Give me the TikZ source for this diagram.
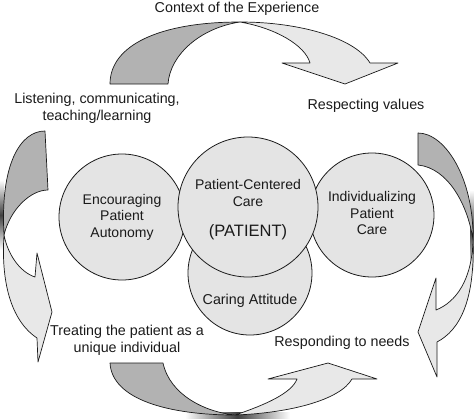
\documentclass[tikz,border=0pt]{standalone}
\usepackage{fontspec}
\setmainfont{Liberation Sans}
\usetikzlibrary{positioning,calc}
\definecolor{ink}{HTML}{1A1A1A}
\definecolor{disc}{HTML}{E4E4E4}
\definecolor{bandlight}{HTML}{E8E8E8}
\definecolor{banddark}{HTML}{B2B2B2}

\tikzset{
  topic/.style={circle,draw=ink,fill=disc,line width=0.8pt,inner sep=0pt},
  caption/.style={font=\fontsize{14.3}{17}\selectfont,align=center,text=ink,inner sep=0pt},
  disctext/.style={caption,font=\fontsize{14}{16.5}\selectfont},
  band/.style={draw=ink,line width=0.7pt,line join=round},
}

\begin{document}
\begin{tikzpicture}[x=1pt,y=-1pt]
  \useasboundingbox (0,0) rectangle (474,418);
  % soft shadows where the bands turn over
  \shade[left color=white,right color=white,middle color=black!75] (185,412) rectangle (290,418);
  \shade[top color=white,bottom color=white,middle color=black!75] (0,180) rectangle (4,250);
  \shade[top color=white,bottom color=white,middle color=black!75] (470,190) rectangle (474,272);

  % top band
  \filldraw[band,fill=banddark] (110,84) .. controls (110,45) and (160,22) .. (240,22)
     .. controls (200,28) and (170,55) .. (168,84) -- cycle;
  \filldraw[band,fill=bandlight] (240,22) .. controls (300,22) and (355,38) .. (370,63)
     -- (398,63) -- (345,84) -- (282,63) -- (310,63)
     .. controls (305,45) and (275,28) .. (240,22) -- cycle;

  % right band
  \filldraw[band,fill=banddark] (418,133) .. controls (445,133) and (474,178) .. (473,240)
     .. controls (468,205) and (448,168) .. (418,165) -- cycle;
  \filldraw[band,fill=bandlight] (473,240) .. controls (472,280) and (456,302) .. (436,310)
     -- (436,278) -- (418,332) -- (437,377) -- (437,342)
     .. controls (460,330) and (475,300) .. (473,240) -- cycle;

  % bottom band
  \filldraw[band,fill=banddark] (110,363) .. controls (112,400) and (170,415) .. (235,415)
     .. controls (205,412) and (170,395) .. (163,363) -- cycle;
  \filldraw[band,fill=bandlight] (235,415) .. controls (290,413) and (340,400) .. (352,379)
     -- (377,379) -- (328,363) -- (268,379) -- (297,379)
     .. controls (292,393) and (265,405) .. (235,415) -- cycle;

  % left band
  \filldraw[band,fill=banddark] (45,131) .. controls (20,131) and (0,165) .. (4,235)
     .. controls (10,210) and (30,190) .. (48,190) -- cycle;
  \filldraw[band,fill=bandlight] (4,235) .. controls (8,255) and (20,272) .. (35,277)
     -- (37,253) -- (52,312) -- (38,362) -- (37,338)
     .. controls (10,320) and (1,280) .. (4,235) -- cycle;

  % the four circles
  \node[topic,minimum size=124pt] (caring) at (250,273) {};
  \node[topic,minimum size=126pt] (autonomy) at (122,217) {};
  \node[topic,minimum size=124pt] (individual) at (372,215) {};
  \node[topic,minimum size=140pt] (patient) at (248,207) {};

  \node[disctext] (autonomytxt) at (autonomy.center) {Encouraging\\Patient\\Autonomy};
  \node[disctext] (individualtxt) at ([yshift=2]individual.center) {Individualizing\\Patient\\Care};
  \node[disctext] (patientcare) at (248,193) {Patient-Centered\\Care};
  \node[caption,font=\fontsize{16.5}{18}\selectfont] (patientname) at (248,232) {(PATIENT)};
  \node[caption] (caringtxt) at (250,301) {Caring Attitude};

  % labels round the cycle
  \node[caption,anchor=base] (context) at (237,12) {Context of the Experience};
  \node[caption] (listening) at (97,108) {Listening, communicating,\\teaching/learning};
  \node[caption] (respecting) at (366,106) {Respecting values};
  \node[caption] (treating) at (127,340) {Treating the patient as a\\unique individual};
  \node[caption] (responding) at (342,343) {Responding to needs};
\end{tikzpicture}
\end{document}
